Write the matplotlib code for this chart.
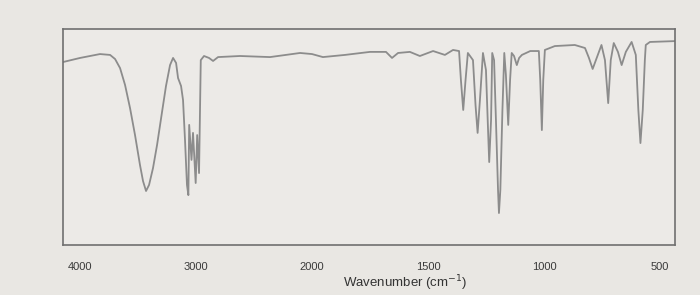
import numpy as np
import matplotlib.pyplot as plt

# IR spectrum: wavenumber (cm-1) and % transmittance
wavenumber = [4147, 4000, 3828, 3741, 3698, 3655, 3612, 3569, 3526, 3483,
              3457, 3431, 3405, 3371, 3336, 3293, 3259, 3224, 3198, 3172,
              3155, 3129, 3112, 3095, 3078, 3066, 3059, 3039, 3026, 3003,
              2990, 2974, 2959, 2931, 2888, 2853, 2810, 2621, 2362, 2103,
              2000, 1953, 1858, 1750, 1681, 1655, 1629, 1578, 1535, 1478,
              1427, 1392, 1366, 1358, 1348, 1338, 1328, 1306, 1295, 1286,
              1276, 1263, 1250, 1241, 1236, 1228, 1223, 1215, 1207, 1198,
              1194, 1188, 1179, 1171, 1164, 1154, 1146, 1139, 1129, 1117,
              1107, 1095, 1059, 1022, 1016, 1009, 1003, 996, 953, 867,
              823, 806, 790, 776, 752, 737, 723, 712, 699, 681,
              665, 647, 622, 604, 593, 584, 574, 565, 561, 543, 435]
transmittance = [84.7, 86.6, 88.4, 88.0, 86.1, 81.9, 74.1, 63.4, 50.9, 37.0,
                 29.6, 25.0, 27.8, 35.6, 46.3, 61.6, 73.6, 83.3, 86.6, 84.3,
                 77.3, 73.6, 67.1, 48.6, 27.8, 23.1, 55.6, 39.4, 51.9, 28.7,
                 50.9, 33.3, 85.6, 87.5, 86.6, 85.2, 87.0, 87.5, 87.0, 88.9,
                 88.4, 87.0, 88.0, 89.4, 89.4, 86.6, 88.9, 89.4, 87.5, 89.8,
                 88.0, 90.3, 89.8, 76.4, 62.5, 76.4, 88.9, 85.6, 64.8, 51.9,
                 67.1, 88.9, 81.0, 53.2, 38.4, 57.9, 88.9, 85.6, 57.9, 25.5,
                 14.8, 25.5, 62.5, 88.9, 78.7, 55.6, 76.4, 88.9, 87.5, 83.3,
                 86.6, 88.0, 89.8, 89.8, 76.4, 53.2, 76.4, 90.3, 92.1, 92.6,
                 91.2, 86.6, 81.5, 85.6, 92.6, 85.6, 65.7, 85.6, 93.5, 89.4,
                 83.3, 89.4, 94.0, 88.0, 62.5, 47.2, 62.5, 85.6, 92.6, 94.0, 94.4]
tick_values = [4000, 3000, 2000, 1500, 1000, 500]


# usual IR chart: scale halves at 2000 cm-1
def fwd(w):
    w = np.asarray(w, dtype=float)
    return np.where(w > 2000, 2000 + (w - 2000) / 2, w)


def inv(v):
    v = np.asarray(v, dtype=float)
    return np.where(v > 2000, 2000 + 2 * (v - 2000), v)


plt.rcParams["font.family"] = ["Liberation Sans", "DejaVu Sans"]
bg = "#e9e7e3"
fig = plt.figure(figsize=(7, 2.95), dpi=100, facecolor=bg)
ax = fig.add_axes([63/700, 1 - 245/295, 612/700, 216/295])
ax.set_facecolor("#eceae7")
ax.plot(wavenumber, transmittance, color="#8c8c8c", lw=1.3)
ax.set_xscale("function", functions=(fwd, inv))
ax.set_xlim(4147, 435)
ax.set_ylim(0, 100)
ax.set_xticks(tick_values)
ax.set_xticklabels([str(t) for t in tick_values])
ax.set_yticks([])
ax.tick_params(axis="x", length=0, pad=12, labelsize=8, labelcolor="#3a3a3a")
for s in ax.spines.values():
    s.set_color("#707070")
    s.set_linewidth(1.2)
fig.text(405/700, 1 - 283/295, "Wavenumber (cm$^{-1}$)", ha="center", va="center",
         fontsize=9.5, color="#333333")
fig.savefig("out.png", dpi=100, facecolor=bg)
